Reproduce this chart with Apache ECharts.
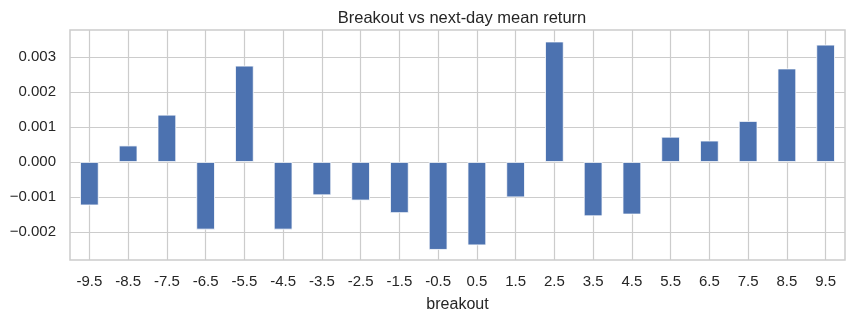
<!DOCTYPE html>
<html><head><meta charset="utf-8">
<script src="https://cdn.jsdelivr.net/npm/echarts@6/dist/echarts.min.js"></script>
<style>html,body{margin:0;padding:0;background:#fff}#c{width:855px;height:319px}</style>
</head><body><div id="c"></div>
<script>
const categories = ['-9.5','-8.5','-7.5','-6.5','-5.5','-4.5','-3.5','-2.5','-1.5','-0.5','0.5','1.5','2.5','3.5','4.5','5.5','6.5','7.5','8.5','9.5'];
const meanReturn = [-0.00124,0.00047,0.00135,-0.00193,0.00275,-0.00193,-0.00095,-0.00110,-0.00146,-0.00251,-0.00238,-0.00101,0.00344,-0.00155,-0.00150,0.00072,0.00061,0.00117,0.00267,0.00335];
const yTicks = [-0.002,-0.001,0,0.001,0.002,0.003];
const titleText = 'Breakout vs next-day mean return';
const xName = 'breakout';

const chart = echarts.init(document.getElementById('c'), null, {renderer:'canvas'});
const font = 'Liberation Sans, Arial, sans-serif';
const txt = '#262626';
const gridC = '#cccccc';
chart.setOption({
  animation:false,
  title:{text:titleText, left:457, top:5, textAlign:'center', textStyle:{fontFamily:font, fontSize:16.5, fontWeight:'normal', color:txt}},
  grid:{left:70, right:10, top:30, bottom:59, show:true, borderColor:gridC, borderWidth:1.5},
  xAxis:{type:'category', data:categories, boundaryGap:true,
    name:xName, nameLocation:'middle', nameGap:37, nameTextStyle:{fontFamily:font, fontSize:16, color:txt},
    axisLine:{show:false}, axisTick:{show:false, alignWithLabel:true},
    axisLabel:{fontFamily:font, fontSize:15, color:txt, margin:14, interval:0},
    splitLine:{show:true, alignWithLabel:true, interval:0, lineStyle:{color:gridC, width:1.2}}},
  yAxis:{type:'value', min:-0.0028, max:0.00377,
    axisLine:{show:false}, axisTick:{show:false, customValues:yTicks},
    axisLabel:{fontFamily:font, fontSize:15, color:txt, margin:14, customValues:yTicks,
      formatter:v=>{ const s=Math.abs(v).toFixed(3); return (v<-1e-9?'\u2212':'')+s; }},
    splitLine:{show:true, lineStyle:{color:gridC, width:1.2}}},
  series:[{type:'bar', data:meanReturn, barWidth:'48%',
    itemStyle:{color:'#4c72b0', borderColor:'#ffffff', borderWidth:0.8}}]
});
</script></body></html>
